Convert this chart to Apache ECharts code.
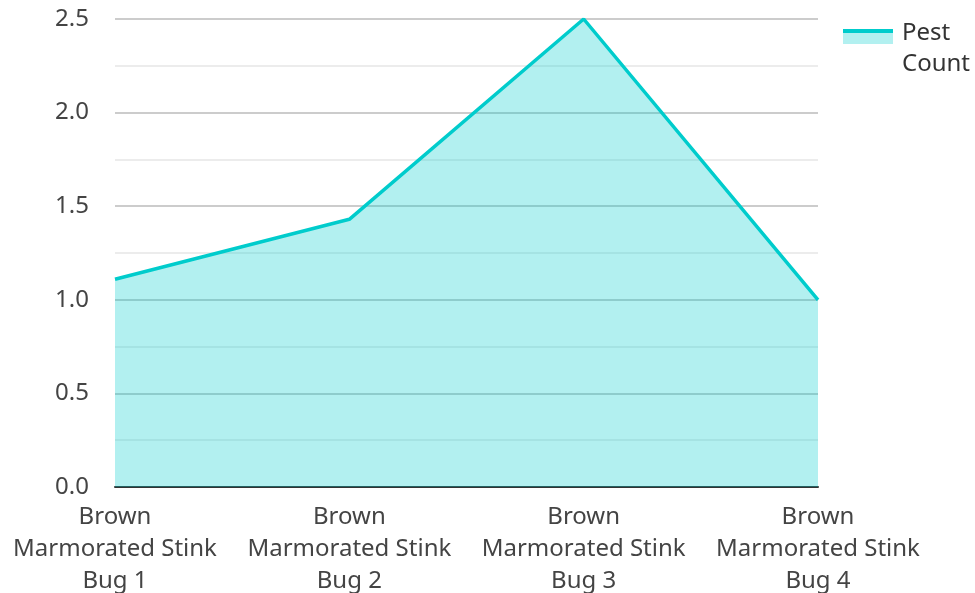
<!DOCTYPE html>
<html>
<head>
<meta charset="utf-8">
<script src="https://cdn.jsdelivr.net/npm/echarts@6/dist/echarts.min.js"></script>
<style>
html,body{margin:0;padding:0;background:#fff;}
#chart{width:975px;height:593px;}
</style>
</head>
<body>
<div id="chart"></div>
<script>
const categories = [
  'Brown Marmorated Stink Bug 1',
  'Brown Marmorated Stink Bug 2',
  'Brown Marmorated Stink Bug 3',
  'Brown Marmorated Stink Bug 4'
];
const pestCount = [1.11, 1.43, 2.5, 1.0];
const seriesName = 'Pest Count';

const TEAL = '#00cccc';
const FONT = 'Noto Sans';

const chart = echarts.init(document.getElementById('chart'));
chart.setOption({
  animation: false,
  textStyle: { fontFamily: FONT },
  grid: { left: 115, right: 157, top: 19, bottom: 106, containLabel: false, outerBoundsMode: 'none' },
  legend: {
    data: [seriesName],
    left: 847,
    top: 18,
    padding: 0,
    orient: 'vertical',
    icon: 'rect',
    itemWidth: 50,
    itemHeight: 15,
    itemStyle: { color: 'rgba(0,0,0,0)', borderWidth: 0 },
    formatter: n => n.replace(' ', '\n'),
    textStyle: { fontFamily: FONT, fontSize: 24, color: '#333', lineHeight: 31 }
  },
  graphic: [{
    type: 'rect',
    left: 843, top: 29,
    shape: { width: 50, height: 15 },
    style: { fill: 'rgba(0,204,204,0.3)' },
    silent: true
  }, {
    type: 'rect',
    left: 843, top: 29,
    shape: { width: 50, height: 4 },
    style: { fill: TEAL },
    silent: true
  }],
  xAxis: {
    type: 'category',
    data: categories,
    boundaryGap: false,
    axisLine: { show: true, lineStyle: { color: '#333', width: 2 } },
    axisTick: { show: false },
    splitLine: { show: false },
    axisLabel: {
      interval: 0,
      hideOverlap: false,
      fontFamily: FONT, fontSize: 24, color: '#444', lineHeight: 32, margin: 14,
      formatter: v => v.replace('Brown ', 'Brown\n').replace(' Bug', '\nBug')
    }
  },
  yAxis: {
    type: 'value',
    min: 0, max: 2.5, interval: 0.5,
    axisLine: { show: false },
    axisTick: { show: false },
    axisLabel: {
      fontFamily: FONT, fontSize: 24, color: '#444', margin: 26,
      formatter: v => v.toFixed(1)
    },
    splitLine: { show: true, lineStyle: { color: '#cccccc', width: 2 } },
    minorTick: { show: false, splitNumber: 2 },
    minorSplitLine: { show: true, lineStyle: { color: '#ececec', width: 2 } }
  },
  series: [{
    name: seriesName,
    type: 'line',
    data: pestCount,
    symbol: 'none',
    lineStyle: { color: TEAL, width: 3.5 },
    itemStyle: { color: TEAL },
    areaStyle: { color: TEAL, opacity: 0.3 },
    z: 3
  }]
});
</script>
</body>
</html>
